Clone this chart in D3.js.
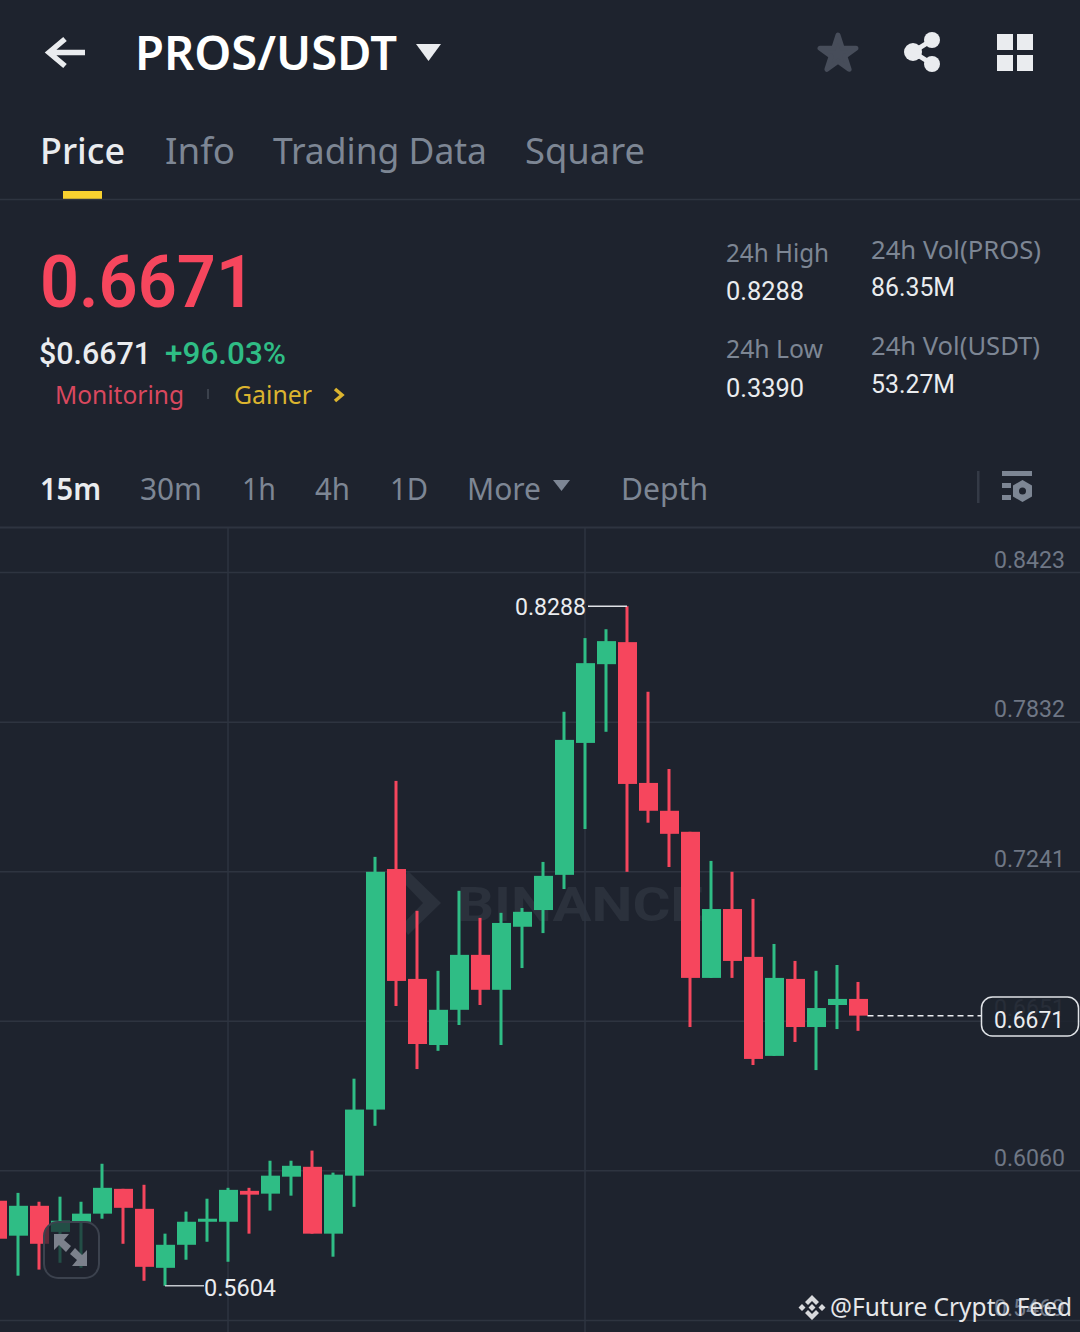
<!DOCTYPE html>
<html>
<head>
<meta charset="utf-8">
<script src="https://cdn.jsdelivr.net/npm/d3@7"></script>
<style>
  html, body { margin: 0; padding: 0; background: #1e232e; }
  svg { display: block; }
</style>
</head>
<body>
<div id="chart"></div>
<script>
// candles, oldest first
const opens = [0.5940, 0.5802, 0.5920, 0.5817, 0.5857, 0.5889, 0.5987, 0.5908, 0.5675, 0.5766, 0.5857, 0.5857,
  0.5979, 0.5968, 0.6035, 0.6074, 0.5810, 0.6039, 0.6300, 0.7250, 0.6816, 0.6555, 0.6694, 0.6911, 0.6773, 0.7022,
  0.7088, 0.7227, 0.7748, 0.8059, 0.8146, 0.7590, 0.7480, 0.7397, 0.6820, 0.7092, 0.6903, 0.6512, 0.6816, 0.6626,
  0.6713, 0.6737];
const highs = [0.5971, 0.5971, 0.5936, 0.5956, 0.5936, 0.6086, 0.5987, 0.6003, 0.5810, 0.5897, 0.5948, 0.5991,
  0.5991, 0.6098, 0.6098, 0.6138, 0.6051, 0.6422, 0.7298, 0.7598, 0.7085, 0.6848, 0.7164, 0.7057, 0.7077, 0.7096,
  0.7278, 0.7871, 0.8162, 0.8197, 0.8288, 0.7950, 0.7645, 0.7397, 0.7282, 0.7239, 0.7132, 0.6954, 0.6887, 0.6848,
  0.6871, 0.6804];
const lows = [0.5766, 0.5644, 0.5668, 0.5695, 0.5675, 0.5869, 0.5770, 0.5624, 0.5604, 0.5707, 0.5778, 0.5699,
  0.5810, 0.5901, 0.5960, 0.5810, 0.5719, 0.5916, 0.6236, 0.6709, 0.6460, 0.6532, 0.6634, 0.6713, 0.6555, 0.6859,
  0.6997, 0.7171, 0.7408, 0.7792, 0.7239, 0.7433, 0.7258, 0.6626, 0.6820, 0.6820, 0.6476, 0.6512, 0.6567, 0.6456,
  0.6618, 0.6611];
const closes = [0.5790, 0.5920, 0.5770, 0.5861, 0.5889, 0.5991, 0.5912, 0.5679, 0.5766, 0.5857, 0.5869, 0.5983,
  0.5964, 0.6039, 0.6078, 0.5810, 0.6043, 0.6300, 0.7239, 0.6808, 0.6559, 0.6694, 0.6911, 0.6773, 0.7037, 0.7081,
  0.7223, 0.7760, 0.8063, 0.8150, 0.7586, 0.7480, 0.7389, 0.6820, 0.7092, 0.6887, 0.6500, 0.6820, 0.6626, 0.6701,
  0.6737, 0.6671];

const priceTicks = [0.8423, 0.7832, 0.7241, 0.6651, 0.6060, 0.5469];
const timeGridCandles = [11, 28];
const lastPrice = 0.6671;
const highPrice = 0.8288, highCandle = 30;
const lowPrice = 0.5604, lowCandle = 8;

const pageTabs = ["Price", "Info", "Trading Data", "Square"];
const intervals = ["15m", "30m", "1h", "4h", "1D", "More", "Depth"];

const width = 1080, height = 1332;
const bg = "#1e232e", grid = "#2e3440", white = "#eaecef", grey = "#7d8694";
const up = "#2fbd85", down = "#f6465d";
const sans = "'Noto Sans', sans-serif", nums = "Roboto, sans-serif";

const svg = d3.select("#chart").append("svg").attr("width", width).attr("height", height);
svg.append("rect").attr("width", width).attr("height", height).attr("fill", bg);

// text helper, w pins the drawn width
function label(g, x, y, str, size, fill, o = {}) {
  const t = g.append("text").attr("x", x).attr("y", y).text(str)
    .attr("font-size", size).attr("fill", fill)
    .attr("font-family", o.font || sans)
    .attr("font-weight", o.weight || 400);
  if (o.w) t.attr("textLength", o.w).attr("lengthAdjust", "spacingAndGlyphs");
  return t;
}

// ---- header ----
const head = svg.append("g");
head.append("path").attr("d", "M85 52.5H50M65 39L49 52.5L65 66")
  .attr("fill", "none").attr("stroke", white).attr("stroke-width", 5.5);
label(head, 135, 70, "PROS/USDT", 46, "#fff", { weight: 600, w: 262 });
head.append("path").attr("d", "M416 44H441L428.5 61Z").attr("fill", white);

// star
const star = d3.symbol().type(d3.symbolStar).size(400);
head.append("path").attr("d", star()).attr("transform", "translate(838,54)")
  .attr("fill", "#474d5a").attr("stroke", "#474d5a").attr("stroke-width", 5).attr("stroke-linejoin", "round");

// share
head.append("path").attr("d", "M932 40L913 52L932 64").attr("fill", "none").attr("stroke", white).attr("stroke-width", 5);
[[932, 40], [913, 52], [932, 64]].forEach(p => {
  head.append("circle").attr("cx", p[0]).attr("cy", p[1]).attr("r", p[0] === 913 ? 9 : 8).attr("fill", white);
});

// four squares
[[997, 34], [1017, 34], [997, 55], [1017, 55]].forEach(p => {
  head.append("rect").attr("x", p[0]).attr("y", p[1]).attr("width", 16).attr("height", 16).attr("fill", white);
});

// ---- page tabs ----
const tabX = [40, 165, 273, 525], tabW = [85, 70, 214, 120];
pageTabs.forEach((d, i) => {
  label(head, tabX[i], 164, d, 36, i === 0 ? white : grey, { w: tabW[i], weight: i === 0 ? 500 : 400 });
});
head.append("rect").attr("x", 63).attr("y", 191).attr("width", 39).attr("height", 8).attr("fill", "#f8d12f");
head.append("line").attr("x1", 0).attr("x2", width).attr("y1", 199.5).attr("y2", 199.5).attr("stroke", grid).attr("stroke-width", 1.5);

// ---- price block ----
const info = svg.append("g");
label(info, 40, 307, "0.6671", 73, down, { font: nums, weight: 600, w: 215 });
label(info, 39, 364, "$0.6671", 32, white, { font: nums, weight: 500, w: 112 });
label(info, 165, 364, "+96.03%", 32, up, { font: nums, weight: 500, w: 121 });
label(info, 55, 404, "Monitoring", 26, "#d9485e", { w: 129 });
info.append("rect").attr("x", 207).attr("y", 389).attr("width", 2).attr("height", 10).attr("fill", "#3b414c");
label(info, 234, 404, "Gainer", 26, "#dcb42f", { w: 78 });
info.append("path").attr("d", "M335 389L342 395L335 401").attr("fill", "none").attr("stroke", "#dcb42f").attr("stroke-width", 3.5);

label(info, 726, 262, "24h High", 26, grey, { w: 103 });
label(info, 726, 300, "0.8288", 25, white, { font: nums, w: 78 });
label(info, 871, 259, "24h Vol(PROS)", 26, grey, { w: 170 });
label(info, 871, 296, "86.35M", 25, white, { font: nums, w: 84 });
label(info, 726, 358, "24h Low", 26, grey, { w: 97 });
label(info, 726, 397, "0.3390", 25, white, { font: nums, w: 78 });
label(info, 871, 355, "24h Vol(USDT)", 26, grey, { w: 169 });
label(info, 871, 393, "53.27M", 25, white, { font: nums, w: 84 });

// ---- interval row ----
const intX = [40, 140, 242, 315, 390, 467, 621], intW = [61, 62, 34, 35, 38, 74, 87];
intervals.forEach((d, i) => {
  label(info, intX[i], 500, d, 31, i === 0 ? white : grey, { w: intW[i], weight: i === 0 ? 600 : 400 });
});
info.append("path").attr("d", "M553 480H570L561.5 491Z").attr("fill", grey);
info.append("rect").attr("x", 977).attr("y", 471).attr("width", 2.5).attr("height", 32).attr("fill", "#343a46");
info.append("rect").attr("x", 1002).attr("y", 471).attr("width", 30).attr("height", 5).attr("fill", grey);
info.append("rect").attr("x", 1002).attr("y", 483).attr("width", 9).attr("height", 5).attr("fill", grey);
info.append("rect").attr("x", 1002).attr("y", 495).attr("width", 9).attr("height", 5).attr("fill", grey);
info.append("path").attr("d", "M1022.5 480L1032 485.5V496.5L1022.5 502L1013 496.5V485.5Z").attr("fill", grey);
info.append("circle").attr("cx", 1022.5).attr("cy", 491).attr("r", 3.5).attr("fill", bg);
info.append("line").attr("x1", 0).attr("x2", width).attr("y1", 527.5).attr("y2", 527.5).attr("stroke", grid).attr("stroke-width", 2);

// ---- chart ----
const x = d3.scaleLinear().domain([0, opens.length - 1]).range([-3, 858]);
const y = d3.scaleLinear().domain([priceTicks[0], priceTicks[5]]).range([572, 1320]);
const bodyWidth = 19;

// BINANCE watermark sits under the grid
const mark = svg.append("g");
mark.append("path")
  .attr("d", "M408 871L441 903L408 935L402 925L423 903L402 881Z")
  .attr("fill", "#2b313c");
label(mark, 457, 921, "BINANCE", 48, "#2b313c", { font: nums, weight: 700, w: 246 });

const axis = d3.axisLeft(y).tickValues(priceTicks).tickFormat(d3.format(".4f")).tickSize(width);
const axisG = svg.append("g").attr("transform", `translate(${width},0)`).call(axis);
axisG.select(".domain").remove();
axisG.selectAll("line").attr("stroke", grid).attr("stroke-width", 1.5);
axisG.selectAll("text")
  .attr("x", -15).attr("dy", "-5px").attr("text-anchor", "end")
  .attr("fill", "#6f7785").attr("font-size", 24).attr("font-family", nums)
  .attr("textLength", 71).attr("lengthAdjust", "spacingAndGlyphs");

svg.append("g").selectAll("line").data(timeGridCandles).join("line")
  .attr("x1", d => x(d)).attr("x2", d => x(d))
  .attr("y1", 528).attr("y2", height)
  .attr("stroke", grid).attr("stroke-width", 1.5);

const candles = svg.append("g").selectAll("g").data(opens.map((d, i) => i)).join("g")
  .attr("fill", i => closes[i] >= opens[i] ? up : down);
candles.append("rect")
  .attr("x", i => x(i) - 1.5).attr("width", 3)
  .attr("y", i => y(highs[i]))
  .attr("height", i => y(lows[i]) - y(highs[i]));
candles.append("rect")
  .attr("x", i => x(i) - bodyWidth / 2 + 0.5).attr("width", bodyWidth)
  .attr("y", i => y(Math.max(opens[i], closes[i])))
  .attr("height", i => Math.max(y(Math.min(opens[i], closes[i])) - y(Math.max(opens[i], closes[i])), 2));

// high / low callouts
const notes = svg.append("g");
notes.append("path")
  .attr("d", `M${x(highCandle)} ${y(highPrice)}H${x(highCandle) - 39}`)
  .attr("fill", "none").attr("stroke", "#dfe2e6").attr("stroke-width", 1.5);
label(notes, 515, 615, d3.format(".4f")(highPrice), 24, white, { font: nums, w: 71 });
notes.append("path")
  .attr("d", `M${x(lowCandle)} ${y(lowPrice)}H${x(lowCandle) + 39}`)
  .attr("fill", "none").attr("stroke", "#c4c8ce").attr("stroke-width", 1.5);
label(notes, 204, 1296, d3.format(".4f")(lowPrice), 24, white, { font: nums, w: 72 });

// last price line and tag
notes.append("line")
  .attr("x1", x(opens.length - 1) + bodyWidth / 2).attr("x2", 981)
  .attr("y1", y(lastPrice)).attr("y2", y(lastPrice))
  .attr("stroke", white).attr("stroke-width", 1.5).attr("stroke-dasharray", "6 4");
notes.append("rect").attr("x", 981.5).attr("y", 997).attr("width", 97).attr("height", 39).attr("rx", 11)
  .attr("fill", bg).attr("fill-opacity", 0.88).attr("stroke", "#dfe2e6").attr("stroke-width", 1.5);
label(notes, 994, 1028, d3.format(".4f")(lastPrice), 24, white, { font: nums, w: 70 });

// expand button over the chart
const btn = svg.append("g");
btn.append("rect").attr("x", 44).attr("y", 1222).attr("width", 55).attr("height", 56).attr("rx", 14)
  .attr("fill", bg).attr("fill-opacity", 0.72).attr("stroke", "#3c424e").attr("stroke-width", 2);
btn.append("path").attr("d", "M54 1234H69L64 1240L71 1246L66 1252L59 1245L54 1250Z M87 1266H72L77 1260L70 1254L75 1248L82 1255L87 1250Z")
  .attr("fill", "#7c818c");

// source stamp
const stamp = svg.append("g");
stamp.append("path")
  .attr("d", "M812 1295L819 1302L816 1305L812 1301L808 1305L805 1302Z M812 1320L805 1313L808 1310L812 1314L816 1310L819 1313Z M802 1304L805.5 1307.5L802 1311L798.5 1307.5Z M822 1304L825.5 1307.5L822 1311L818.5 1307.5Z M812 1304L815.5 1307.5L812 1311L808.5 1307.5Z")
  .attr("fill", "#d8d9dc");
label(stamp, 830, 1316, "@Future Crypto Feed", 24.5, "#e6e7e9", { w: 242 });
</script>
</body>
</html>
